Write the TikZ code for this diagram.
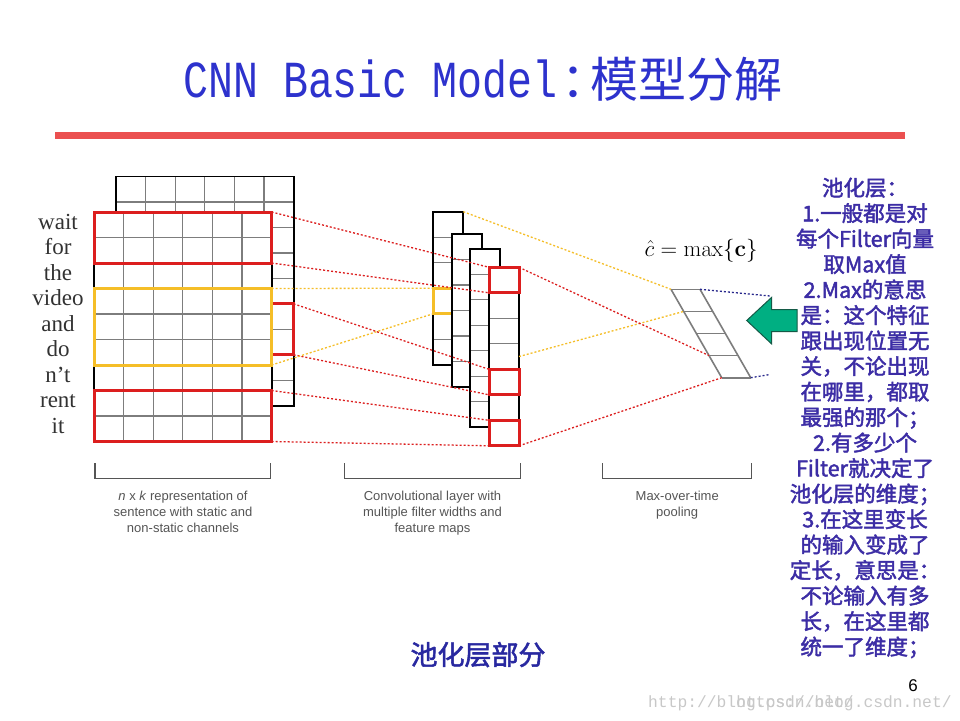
\RequirePackage{fix-cm}
\documentclass[tikz,border=0pt]{standalone}
\usepackage[no-math]{fontspec}
\setmainfont{Liberation Serif}
\setsansfont{Liberation Sans}
\setmonofont{Liberation Mono}
\newfontfamily\cjk{Noto Sans CJK SC}[AutoFakeBold=2]
\usetikzlibrary{positioning}

\definecolor{titleblue}{RGB}{45,50,205}
\definecolor{rulered}{RGB}{235,80,80}
\definecolor{boxred}{RGB}{220,30,30}
\definecolor{boxyel}{RGB}{245,190,40}
\definecolor{dotblue}{RGB}{40,40,140}
\definecolor{cellgray}{RGB}{125,125,125}
\definecolor{capgray}{RGB}{85,85,85}
\definecolor{wordgray}{RGB}{50,50,50}
\definecolor{notecol}{RGB}{60,45,165}
\definecolor{headblue}{RGB}{40,40,160}
\definecolor{arrowgreen}{RGB}{0,175,130}
\definecolor{arrowedge}{RGB}{20,90,70}
\definecolor{markgray}{RGB}{200,200,200}

\begin{document}
\begin{tikzpicture}[x=1pt,y=-1pt,
    word/.style={font=\fontsize{23}{23}\selectfont,text=wordgray,anchor=base},
    undertext/.style={font=\sffamily\fontsize{13}{16}\selectfont,text=capgray,align=center,anchor=north,inner sep=0pt},
    redbox/.style={draw=boxred,line width=3pt,inner sep=0pt,outer sep=0pt,anchor=north west},
    yelbox/.style={draw=boxyel,line width=3pt,inner sep=0pt,outer sep=0pt,anchor=north west},
    cell/.style={draw=cellgray,line width=1.2pt,fill=white,minimum width=30pt,minimum height=25.5pt,inner sep=0pt,outer sep=0pt,anchor=north west},
    gridline/.style={draw=cellgray,line width=1.2pt},
    outline/.style={draw=black,line width=1.8pt},
    poolline/.style={draw=cellgray,line width=1.6pt},
    reddot/.style={draw=boxred,line width=1.3pt,dash pattern=on 2pt off 2pt},
    yeldot/.style={draw=boxyel,line width=1.3pt,dash pattern=on 2pt off 2pt},
    bluedot/.style={draw=dotblue,line width=1.3pt,dash pattern=on 2pt off 2pt},
    bracket/.style={draw=capgray,line width=1.3pt},
    note/.style={font=\cjk\bfseries\fontsize{21.5}{25.5}\selectfont,text=notecol,align=center}]

    \fill[white] (0,0) rectangle (960,720);
    \useasboundingbox (0,0) rectangle (960,720);

    % title
    \node[anchor=base west,inner sep=0pt,text=titleblue] (title) at (183,97)
        {\scalebox{0.8}[1]{\fontsize{52}{52}\selectfont\ttfamily CNN Basic Model}{\cjk\fontsize{48}{48}\selectfont\hspace{4pt}：\hspace{-19pt}模型分解}};
    \draw[rulered,line width=7pt] (55,135) -- (905,135);

    % sentence matrix, back layer
    \fill[white] (116,176.5) rectangle (293.6,406);
    \foreach \i in {1,...,5} \draw[gridline] ({116+29.6*\i},176.5) -- ({116+29.6*\i},406);
    \foreach \j in {1,...,8} \draw[gridline] (116,{176.5+25.5*\j}) -- (293.6,{176.5+25.5*\j});
    \draw[outline] (116,176.5) rectangle (293.6,406);

    % sentence matrix, front layer
    \fill[white] (94,212) rectangle (271.6,441.5);
    \foreach \i in {1,...,5} \draw[gridline] ({94+29.6*\i},212) -- ({94+29.6*\i},441.5);
    \foreach \j in {1,...,8} \draw[gridline] (94,{212+25.5*\j}) -- (271.6,{212+25.5*\j});
    \draw[outline] (94,212) rectangle (271.6,441.5);

    \node[redbox,minimum width=177.6pt,minimum height=51pt] (r1) at (94,212) {};
    \node[redbox,minimum width=22pt,minimum height=51pt] (r2) at (271.6,303.8) {};
    \node[yelbox,minimum width=177.6pt,minimum height=76.5pt] (y1) at (94,288.5) {};
    \node[redbox,minimum width=177.6pt,minimum height=51pt] (r3) at (94,390.5) {};

    \foreach \w [count=\i] in {wait,for,the,video,and,do,n{\char39}t,rent,it}
        \node[word] (w\i) at (58,{229.3+25.5*(\i-1)}) {\w};

    % feature maps
    \foreach \m/\x/\y/\n in {1/433.3/211.7/6} {
        \foreach \k in {1,...,\n}
            \node[cell] (m\m-\k) at (\x,{\y+25.5*(\k-1)}) {};
        \draw[outline] (m\m-1.north west) rectangle (m\m-\n.south east);
    }
    \node[yelbox,minimum width=30pt,minimum height=25.5pt] (ys) at (m1-4.north west) {};
    \foreach \m/\x/\y/\n in {2/451.7/234/6,3/470/248.7/7,4/489/267.3/7} {
        \foreach \k in {1,...,\n}
            \node[cell] (m\m-\k) at (\x,{\y+25.5*(\k-1)}) {};
        \draw[outline] (m\m-1.north west) rectangle (m\m-\n.south east);
    }
    \node[redbox,minimum width=30pt,minimum height=25.5pt] (f1) at (m4-1.north west) {};
    \node[redbox,minimum width=30pt,minimum height=25.5pt] (f5) at (m4-5.north west) {};
    \node[redbox,minimum width=30pt,minimum height=25.5pt] (f7) at (m4-7.north west) {};

    % pooled vector
    \foreach \k in {0,...,4} {
        \coordinate (pl\k) at ({671+12.675*\k},{289.3+22.1*\k});
        \coordinate (pr\k) at ({700+12.675*\k},{289.3+22.1*\k});
        \draw[poolline] (pl\k) -- (pr\k);
    }
    \draw[poolline] (pl0) -- (pl4) (pr0) -- (pr4);
    \coordinate (fc1) at (770,296);
    \coordinate (fc2) at (770,374.5);

    \node (cmax) at (701,251) {\fontsize{23}{23}\selectfont$\hat{c} = \max\{\mathbf{c}\}$};

    \path (r1.north east) edge[reddot] (f1.north west)
          (r1.south east) edge[reddot] (f1.south west)
          (r2.north east) edge[reddot] (f5.north west)
          (r2.south east) edge[reddot] (f5.south west)
          (r3.north east) edge[reddot] (f7.north west)
          (r3.south east) edge[reddot] (f7.south west)
          (y1.north east) edge[yeldot] (ys.north west)
          (y1.south east) edge[yeldot] (ys.south west)
          (m1-1.north east) edge[yeldot] (pl0)
          (m4-4.east) edge[yeldot] (pl1)
          (f1.north east) edge[reddot] (pl3)
          (f7.south east) edge[reddot] (pl4)
          (pr0) edge[bluedot] (fc1)
          (pr4) edge[bluedot] (fc2);

    % green arrow
    \filldraw[fill=arrowgreen,draw=arrowedge,line width=1pt] (746.7,320.5) -- (771.7,297.3) -- (771.7,309.5)
        -- (797,309.5) -- (797,331.7) -- (771.7,331.7) -- (771.7,344) -- cycle;

    % brackets and captions
    \draw[bracket] (95,463.3) -- (95,478.3) -- (270.7,478.3) -- (270.7,463.3);
    \draw[bracket] (344.3,463.3) -- (344.3,478.3) -- (520.7,478.3) -- (520.7,463.3);
    \draw[bracket] (602.7,463.3) -- (602.7,478.3) -- (751.7,478.3) -- (751.7,463.3);
    \node[undertext] (lab1) at (183,490.5) {\textit{n} x \textit{k} representation of\\sentence with static and\\non-static channels};
    \node[undertext] (lab2) at (432.5,490.5) {Convolutional layer with\\multiple filter widths and\\feature maps};
    \node[undertext] (lab3) at (677.2,490.5) {Max-over-time\\pooling};

    \node[note] (pool) at (865,418) {池化层：\\1.一般都是对\\每个Filter向量\\取Max值\\2.Max的意思\\是：这个特征\\跟出现位置无\\关，不论出现\\在哪里，都取\\最强的那个；\\2.有多少个\\Filter就决定了\\池化层的维度；\\3.在这里变长\\的输入变成了\\定长，意思是：\\不论输入有多\\长，在这里都\\统一了维度；};

    \node[font=\cjk\bfseries\fontsize{27}{27}\selectfont,text=headblue] (part) at (478,654.6) {池化层部分};

    \node[font=\sffamily\fontsize{17}{17}\selectfont] (pageno) at (913,686) {6};
    \node[font=\ttfamily\fontsize{16.3}{16}\selectfont,text=markgray,anchor=west,inner sep=0pt] (url1) at (648,703) {http://blog.csdn.net/};
    \node[font=\ttfamily\fontsize{16.3}{16}\selectfont,text=markgray,anchor=west,inner sep=0pt] (url2) at (736.2,703) {https://blog.csdn.net/};
\end{tikzpicture}
\end{document}
